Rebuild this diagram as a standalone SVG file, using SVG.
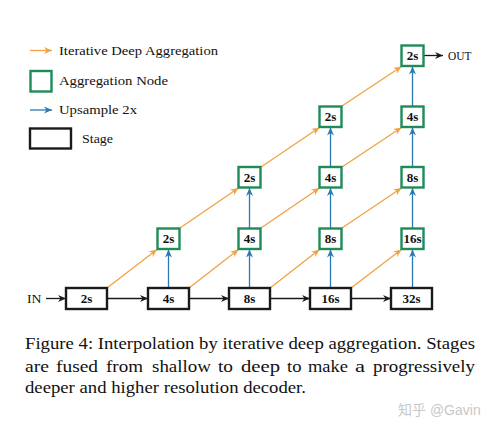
<svg xmlns="http://www.w3.org/2000/svg" width="498" height="431" viewBox="0 0 498 431" font-family="Liberation Serif, Times New Roman, serif">
<style>
text{fill:#111}
.lbl{font-size:13px;font-weight:bold;text-anchor:middle}
.leg{font-size:13.5px}
.cap{font-size:17px}
.wm{font-family:'Liberation Sans','Noto Sans CJK SC',sans-serif;font-size:14px;fill:#c8c8c8}
.agg{fill:#fff;stroke:#1f8b58;stroke-width:2.4}
.stage{fill:#fff;stroke:#1a1a1a;stroke-width:2.4}
.o{stroke:#f0a244;stroke-width:1.3;fill:none;marker-end:url(#ao)}
.b{stroke:#2a79b2;stroke-width:1.3;fill:none;marker-end:url(#ab)}
.k{stroke:#1a1a1a;stroke-width:1.3;fill:none;marker-end:url(#ak)}
</style>
<defs>
<marker id="ao" markerUnits="userSpaceOnUse" markerWidth="9" markerHeight="8" refX="8" refY="4" orient="auto"><path d="M0,0.5 L8,4 L0,7.5 L2.5,4 z" fill="#f0a244"/></marker>
<marker id="ab" markerUnits="userSpaceOnUse" markerWidth="9" markerHeight="8" refX="8" refY="4" orient="auto"><path d="M0,0.5 L8,4 L0,7.5 L2.5,4 z" fill="#2a79b2"/></marker>
<marker id="ak" markerUnits="userSpaceOnUse" markerWidth="9" markerHeight="8" refX="8" refY="4" orient="auto"><path d="M0,0.5 L8,4 L0,7.5 L2.5,4 z" fill="#1a1a1a"/></marker>
</defs>
<rect width="498" height="431" fill="#fff"/>

<g id="legend">
<line class="o" x1="30" y1="50.5" x2="52" y2="50.5"/>
<text class="leg" x="59" y="55" textLength="159" lengthAdjust="spacingAndGlyphs">Iterative Deep Aggregation</text>
<rect class="agg" x="30.5" y="71" width="21" height="20.5"/>
<text class="leg" x="59" y="85" textLength="109" lengthAdjust="spacingAndGlyphs">Aggregation Node</text>
<line class="b" x1="30" y1="110" x2="52" y2="110"/>
<text class="leg" x="59" y="114" textLength="78" lengthAdjust="spacingAndGlyphs">Upsample 2x</text>
<rect class="stage" x="30" y="128.5" width="41" height="20"/>
<text class="leg" x="82" y="143" textLength="31" lengthAdjust="spacingAndGlyphs">Stage</text>
</g>

<g id="connectors">
<line class="k" x1="46" y1="298.5" x2="66" y2="298.5"/>
<line class="k" x1="107" y1="298.5" x2="148" y2="298.5"/>
<line class="k" x1="189" y1="298.5" x2="229" y2="298.5"/>
<line class="k" x1="270" y1="298.5" x2="310" y2="298.5"/>
<line class="k" x1="351" y1="298.5" x2="391" y2="298.5"/>
<line class="k" x1="424" y1="55.5" x2="443" y2="55.5"/>

<line class="b" x1="168.5" y1="288" x2="168.5" y2="249.5"/>
<line class="b" x1="249.5" y1="288" x2="249.5" y2="249.5"/>
<line class="b" x1="249.5" y1="228" x2="249.5" y2="188"/>
<line class="b" x1="330.5" y1="288" x2="330.5" y2="249.5"/>
<line class="b" x1="330.5" y1="228" x2="330.5" y2="188"/>
<line class="b" x1="330.5" y1="167" x2="330.5" y2="127.5"/>
<line class="b" x1="412.5" y1="288" x2="412.5" y2="249.5"/>
<line class="b" x1="412.5" y1="228" x2="412.5" y2="188"/>
<line class="b" x1="412.5" y1="167" x2="412.5" y2="127.5"/>
<line class="b" x1="412.5" y1="106" x2="412.5" y2="66.5"/>

<line class="o" x1="107" y1="288" x2="157" y2="249.5"/>
<line class="o" x1="189" y1="288" x2="238.5" y2="249.5"/>
<line class="o" x1="270" y1="288" x2="319.5" y2="249.5"/>
<line class="o" x1="351" y1="288" x2="401.5" y2="249.5"/>
<line class="o" x1="180" y1="228" x2="238.5" y2="188"/>
<line class="o" x1="261" y1="228" x2="319.5" y2="188"/>
<line class="o" x1="342" y1="228" x2="401.5" y2="188"/>
<line class="o" x1="261" y1="167" x2="319.5" y2="127.5"/>
<line class="o" x1="342" y1="167" x2="401.5" y2="127.5"/>
<line class="o" x1="342" y1="106" x2="401.5" y2="66.5"/>
</g>

<g id="in"><text class="leg" x="27" y="303" textLength="14.5" lengthAdjust="spacingAndGlyphs">IN</text></g>
<g id="out"><text class="leg" x="448" y="60" textLength="23.5" lengthAdjust="spacingAndGlyphs">OUT</text></g>

<g id="s1"><rect class="stage" x="66" y="288" width="41" height="21"/><text class="lbl" x="86.5" y="303">2s</text></g>
<g id="s2"><rect class="stage" x="148" y="288" width="41" height="21"/><text class="lbl" x="168.5" y="303">4s</text></g>
<g id="s3"><rect class="stage" x="229" y="288" width="41" height="21"/><text class="lbl" x="249.5" y="303">8s</text></g>
<g id="s4"><rect class="stage" x="310" y="288" width="41" height="21"/><text class="lbl" x="330.5" y="303">16s</text></g>
<g id="s5"><rect class="stage" x="391" y="288" width="41" height="21"/><text class="lbl" x="411.5" y="303">32s</text></g>

<g id="n11"><rect class="agg" x="157.5" y="228.5" width="22" height="20.5"/><text class="lbl" x="168.5" y="243">2s</text></g>
<g id="n12"><rect class="agg" x="238.5" y="228.5" width="22" height="20.5"/><text class="lbl" x="249.5" y="243">4s</text></g>
<g id="n13"><rect class="agg" x="319.5" y="228.5" width="22" height="20.5"/><text class="lbl" x="330.5" y="243">8s</text></g>
<g id="n14"><rect class="agg" x="401.5" y="228.5" width="22" height="20.5"/><text class="lbl" x="412.5" y="243">16s</text></g>
<g id="n22"><rect class="agg" x="238.5" y="167" width="22" height="20.5"/><text class="lbl" x="249.5" y="181.5">2s</text></g>
<g id="n23"><rect class="agg" x="319.5" y="167" width="22" height="20.5"/><text class="lbl" x="330.5" y="181.5">4s</text></g>
<g id="n24"><rect class="agg" x="401.5" y="167" width="22" height="20.5"/><text class="lbl" x="412.5" y="181.5">8s</text></g>
<g id="n33"><rect class="agg" x="319.5" y="106.5" width="22" height="20.5"/><text class="lbl" x="330.5" y="121">2s</text></g>
<g id="n34"><rect class="agg" x="401.5" y="106.5" width="22" height="20.5"/><text class="lbl" x="412.5" y="121">4s</text></g>
<g id="n44"><rect class="agg" x="401.5" y="45.5" width="22" height="20.5"/><text class="lbl" x="412.5" y="60">2s</text></g>

<g id="caption">
<text class="cap" x="25" y="349" textLength="450" lengthAdjust="spacingAndGlyphs">Figure 4: Interpolation by iterative deep aggregation. Stages</text>
<text class="cap" x="25" y="371.5" textLength="24" lengthAdjust="spacingAndGlyphs">are</text>
<text class="cap" x="56" y="371.5" textLength="42" lengthAdjust="spacingAndGlyphs">fused</text>
<text class="cap" x="106" y="371.5" textLength="37" lengthAdjust="spacingAndGlyphs">from</text>
<text class="cap" x="152" y="371.5" textLength="59" lengthAdjust="spacingAndGlyphs">shallow</text>
<text class="cap" x="218" y="371.5" textLength="15" lengthAdjust="spacingAndGlyphs">to</text>
<text class="cap" x="241" y="371.5" textLength="39" lengthAdjust="spacingAndGlyphs">deep</text>
<text class="cap" x="287" y="371.5" textLength="14.5" lengthAdjust="spacingAndGlyphs">to</text>
<text class="cap" x="308" y="371.5" textLength="40" lengthAdjust="spacingAndGlyphs">make</text>
<text class="cap" x="355" y="371.5" textLength="10" lengthAdjust="spacingAndGlyphs">a</text>
<text class="cap" x="373" y="371.5" textLength="102" lengthAdjust="spacingAndGlyphs">progressively</text>
<text class="cap" x="25" y="393" textLength="281" lengthAdjust="spacingAndGlyphs">deeper and higher resolution decoder.</text>
</g>
<text class="wm" x="398" y="415">知乎 @Gavin</text>
</svg>
